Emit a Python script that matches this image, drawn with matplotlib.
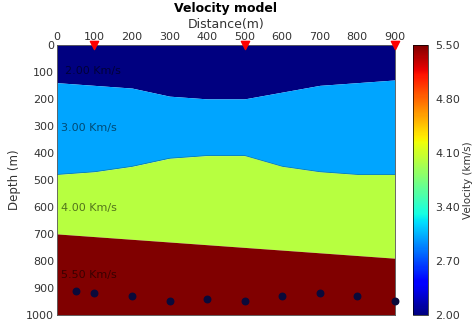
import numpy as np
import matplotlib
matplotlib.use("Agg")
import matplotlib.pyplot as plt
from matplotlib.colors import Normalize
from matplotlib.cm import ScalarMappable

# Data
dist = [0, 100, 200, 300, 400, 500, 600, 700, 800, 900]
interface1 = [140, 150, 160, 190, 200, 200, 175, 150, 140, 130]
interface2 = [480, 470, 450, 420, 410, 410, 450, 470, 480, 480]
interface3_x = [0, 900]
interface3 = [700, 790]
velocities = [2.00, 3.00, 4.00, 5.50]
layer_labels = ["2.00 Km/s", "3.00 Km/s", "4.00 Km/s", "5.50 Km/s"]
label_x = [22, 10, 10, 12]
label_depths = [95, 308, 605, 854]
source_x = [100, 500, 900]
source_z = [0, 0, 0]
rec_x = [50, 100, 200, 300, 400, 500, 600, 700, 800, 900]
rec_z = [910, 920, 930, 950, 940, 950, 930, 920, 930, 950]
cbar_ticks = [2.00, 2.70, 3.40, 4.10, 4.80, 5.50]

cmap = plt.get_cmap("jet")
norm = Normalize(vmin=2.0, vmax=5.5)
tc = "#333333"

fig = plt.figure(figsize=(4.74, 3.25), dpi=100)
ax = fig.add_axes([0.120, 0.031, 0.713, 0.831])
cax = fig.add_axes([0.871, 0.031, 0.032, 0.831])

x = np.array(dist, dtype=float)
top = np.zeros_like(x)
i1 = np.array(interface1, dtype=float)
i2 = np.array(interface2, dtype=float)
i3 = np.interp(x, interface3_x, interface3)
bot = np.full_like(x, 1000.0)
bounds = [top, i1, i2, i3, bot]
for k, v in enumerate(velocities):
    ax.fill_between(x, bounds[k], bounds[k + 1], color=cmap(norm(v)), lw=0)
ax.plot(x, i2, color="#1a5a6a", lw=0.5, alpha=0.6)

for lab, lx, d in zip(layer_labels, label_x, label_depths):
    ax.text(lx, d, lab, fontsize=8, color="black", alpha=0.55, va="center", ha="left")

ax.scatter(rec_x, rec_z, s=22, color="#0a0a3a", zorder=5, clip_on=False)
ax.scatter(source_x, source_z, marker="v", s=35, color="red", zorder=6, clip_on=False)

ax.set_xlim(0, 900)
ax.set_ylim(1000, 0)
ax.set_xticks(range(0, 1000, 100))
ax.set_yticks(range(0, 1100, 100))
ax.xaxis.tick_top()
ax.xaxis.set_label_position("top")
ax.set_xlabel("Distance(m)", fontsize=9, color=tc, labelpad=3)
ax.set_ylabel("Depth (m)", fontsize=8.5, color=tc, labelpad=4)
ax.set_title("Velocity model", fontsize=9, fontweight="bold", pad=4)
ax.tick_params(length=0, labelsize=8, colors=tc, pad=2)
for s in ax.spines.values():
    s.set_linewidth(0.6)
    s.set_color("#555555")

sm = ScalarMappable(norm=norm, cmap=cmap)
cb = fig.colorbar(sm, cax=cax, ticks=cbar_ticks)
cb.ax.set_yticklabels(["%.2f" % t for t in cbar_ticks])
cb.ax.tick_params(length=0, labelsize=8, colors=tc, pad=5)
cb.set_label("Velocity (km/s)", fontsize=7.5, color=tc, labelpad=2)
cb.outline.set_linewidth(0.5)

fig.savefig("out.png", dpi=100)
